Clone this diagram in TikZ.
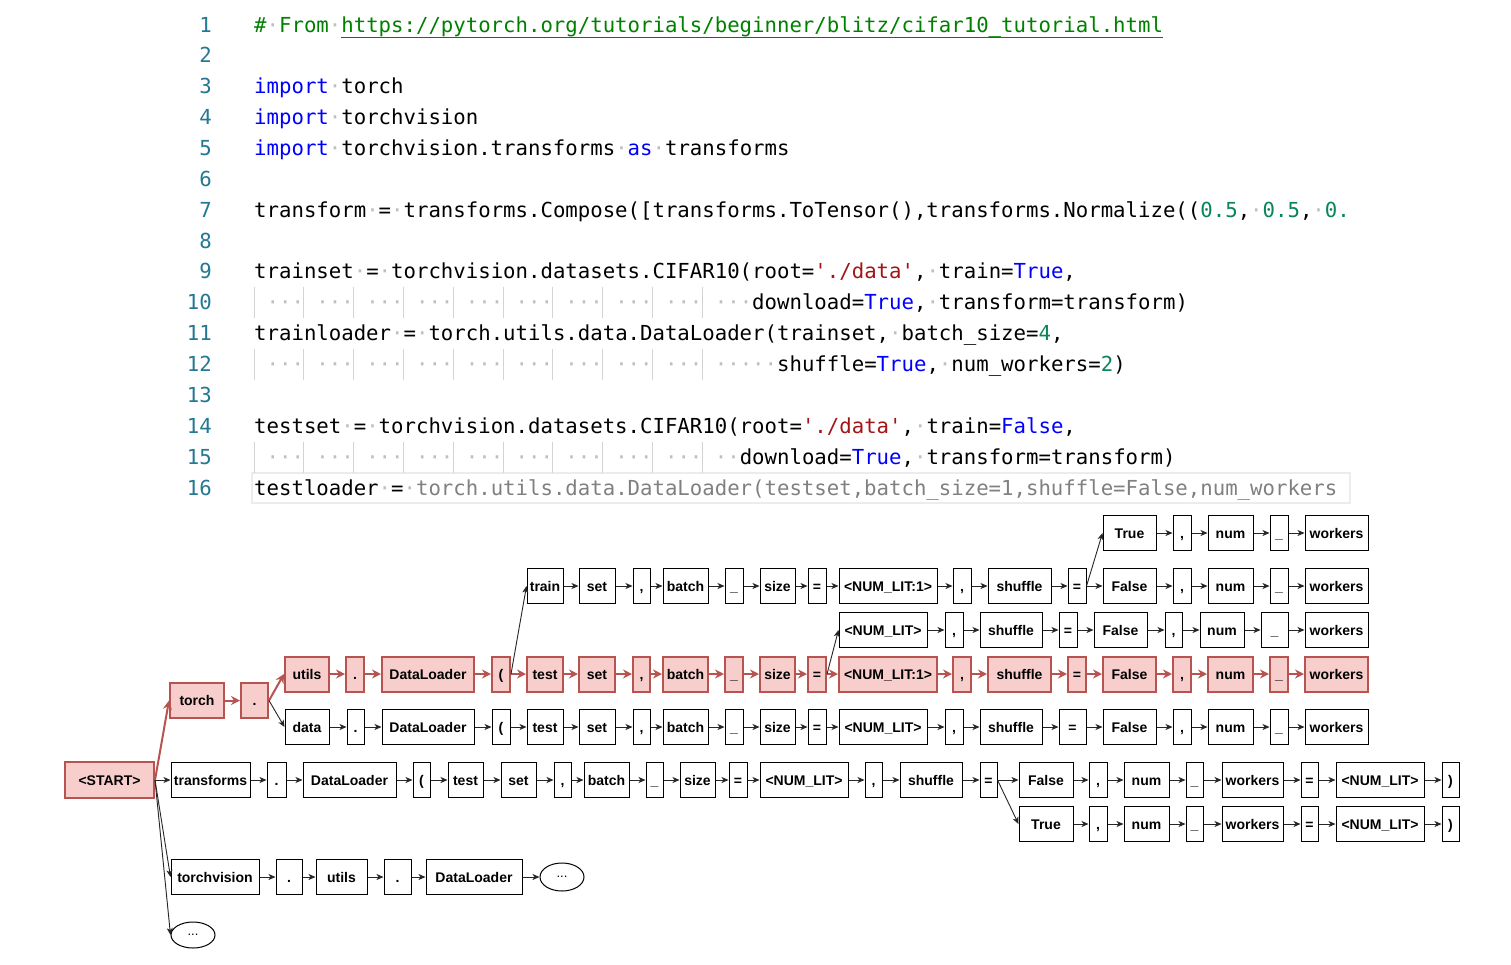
\documentclass[tikz,border=0pt]{standalone}
\usepackage{fontspec}
\setsansfont{Liberation Sans}
\setmonofont{DejaVu Sans Mono}
\usetikzlibrary{arrows.meta,shapes.geometric}
\definecolor{kw}{HTML}{0000FF}
\definecolor{numc}{HTML}{098658}
\definecolor{strc}{HTML}{A31515}
\definecolor{cmt}{HTML}{008000}
\definecolor{lnum}{HTML}{237893}
\definecolor{wsc}{HTML}{BFBFBF}
\definecolor{guide}{HTML}{D3D3D3}
\definecolor{ghost}{HTML}{808080}
\definecolor{rfill}{HTML}{F8CECC}
\definecolor{rline}{HTML}{B85450}
\newcommand\ws{{\color{wsc}·}}
\newcommand\grp{\hphantom{0}\ws\ws\ws}
\newcommand\bx[6][]{\node[box,#1,minimum width={(#4-#3)*1pt}] (#2) at ({(#3+#4)/2},#5) {#6};}
\begin{document}
\begin{tikzpicture}[x=1pt,y=-1pt,
  box/.style={draw=black,line width=1pt,fill=white,minimum height=35pt,inner sep=1pt,
    text height=12pt,text depth=2pt,
    font=\sffamily\bfseries\fontsize{14}{16}\selectfont},
  rbox/.style={fill=rfill,draw=rline,line width=2pt},
  ell/.style={draw=black,line width=1pt,ellipse,inner sep=0pt,font=\sffamily\fontsize{13}{15}\selectfont},
  arr/.style={draw=black!85,line width=0.9pt,-{Stealth[length=7pt,width=6pt,inset=2pt]}},
  rarr/.style={draw=rline,line width=2pt,-{Stealth[length=9pt,width=9pt,inset=3pt]}},
  code/.style={anchor=base west,inner sep=0pt,font=\ttfamily\fontsize{20.68}{24}\selectfont},
  lno/.style={anchor=base east,inner sep=0pt,text=lnum,font=\ttfamily\fontsize{20.68}{24}\selectfont}]
\useasboundingbox (0,0) rectangle (1511,964);
\fill[white] (0,0) rectangle (1511,964);

% ---------- code ----------
\draw[gray!15,line width=1.5pt] (252,473) rectangle (1350,503);
\foreach \n in {1,...,16}{
  \node[lno] (ln\n) at (212,{25+(\n-1)*30.87+7}) {\n};
}
\foreach \n in {10,12,15}{
  \foreach \k in {0,...,9}{
    \draw[guide,line width=0.8pt] ({254+\k*49.8},{25+(\n-1)*30.87-15.4}) -- ({254+\k*49.8},{25+(\n-1)*30.87+15.4});
  }
}
\node[code] (c1) at (254,{25+0*30.87+7}) {{\color{cmt}\#}\ws{\color{cmt}From}\ws{\color{cmt}https://pytorch.org/tutorials/beginner/blitz/cifar10\_tutorial.html}};
\draw[cmt,line width=1pt] (341,37) -- (1163,37);
\node[code] (c3) at (254,{25+2*30.87+7}) {{\color{kw}import}\ws torch};
\node[code] (c4) at (254,{25+3*30.87+7}) {{\color{kw}import}\ws torchvision};
\node[code] (c5) at (254,{25+4*30.87+7}) {{\color{kw}import}\ws torchvision.transforms\ws{\color{kw}as}\ws transforms};
\node[code] (c7) at (254,{25+6*30.87+7}) {transform\ws=\ws transforms.Compose([transforms.ToTensor(),transforms.Normalize(({\color{numc}0.5},\ws{\color{numc}0.5},\ws{\color{numc}0.}};
\node[code] (c9) at (254,{25+8*30.87+7}) {trainset\ws=\ws torchvision.datasets.CIFAR10(root={\color{strc}'./data'},\ws train={\color{kw}True},};
\node[code] (c10) at (254,{25+9*30.87+7}) {\grp\grp\grp\grp\grp\grp\grp\grp\grp\grp download={\color{kw}True},\ws transform=transform)};
\node[code] (c11) at (254,{25+10*30.87+7}) {trainloader\ws=\ws torch.utils.data.DataLoader(trainset,\ws batch\_size={\color{numc}4},};
\node[code] (c12) at (254,{25+11*30.87+7}) {\grp\grp\grp\grp\grp\grp\grp\grp\grp\grp\ws\ws shuffle={\color{kw}True},\ws num\_workers={\color{numc}2})};
\node[code] (c14) at (254,{25+13*30.87+7}) {testset\ws=\ws torchvision.datasets.CIFAR10(root={\color{strc}'./data'},\ws train={\color{kw}False},};
\node[code] (c15) at (254,{25+14*30.87+7}) {\grp\grp\grp\grp\grp\grp\grp\grp\grp\hphantom{0}\ws\ws download={\color{kw}True},\ws transform=transform)};
\node[code] (c16) at (254,{25+15*30.87+7}) {testloader\ws=\ws{\color{ghost}torch.utils.data.DataLoader(testset,batch\_size=1,shuffle=False,num\_workers}};

% ---------- diagram ----------
\node[box,rbox,minimum width=89pt,minimum height=36pt] (S) at (109.5,780) {<START>};
\bx[rbox]{T1}{170}{224}{700.5}{torch}
\bx[rbox]{T2}{241}{268}{700.5}{.}

% row A
\bx{A16}{1103}{1156}{533}{True}
\bx{A17}{1173}{1191}{533}{,}
\bx{A18}{1208}{1253}{533}{num}
\bx{A19}{1270}{1288}{533}{\_}
\bx{A20}{1305}{1368}{533}{workers}
% row B
\bx{B5}{527}{563}{586}{train}
\bx{B6}{579}{615}{586}{set}
\bx{B7}{633}{650}{586}{,}
\bx{B8}{663}{708}{586}{batch}
\bx{B9}{725}{743}{586}{\_}
\bx{B10}{760}{795}{586}{size}
\bx{B11}{808}{826}{586}{=}
\bx{B12}{839}{937}{586}{<NUM\_LIT:1>}
\bx{B13}{953}{971}{586}{,}
\bx{B14}{988}{1051}{586}{shuffle}
\bx{B15}{1068}{1086}{586}{=}
\bx{B16}{1103}{1156}{586}{False}
\bx{B17}{1173}{1191}{586}{,}
\bx{B18}{1208}{1253}{586}{num}
\bx{B19}{1270}{1288}{586}{\_}
\bx{B20}{1305}{1368}{586}{workers}
% row C
\bx{C12}{839}{927}{630}{<NUM\_LIT>}
\bx{C13}{945}{963}{630}{,}
\bx{C14}{980}{1042}{630}{shuffle}
\bx{C15}{1059}{1077}{630}{=}
\bx{C16}{1094}{1147}{630}{False}
\bx{C17}{1165}{1182}{630}{,}
\bx{C18}{1200}{1244}{630}{num}
\bx{C19}{1261}{1288}{630}{\_}
\bx{C20}{1305}{1368}{630}{workers}
% row D (highlighted)
\bx[rbox]{D1}{285}{329}{674}{utils}
\bx[rbox]{D2}{346}{364}{674}{.}
\bx[rbox]{D3}{382}{474}{674}{DataLoader}
\bx[rbox]{D4}{492}{510}{674}{(}
\bx[rbox]{D5}{527}{563}{674}{test}
\bx[rbox]{D6}{579}{615}{674}{set}
\bx[rbox]{D7}{633}{650}{674}{,}
\bx[rbox]{D8}{663}{708}{674}{batch}
\bx[rbox]{D9}{725}{743}{674}{\_}
\bx[rbox]{D10}{760}{795}{674}{size}
\bx[rbox]{D11}{808}{826}{674}{=}
\bx[rbox]{D12}{839}{937}{674}{<NUM\_LIT:1>}
\bx[rbox]{D13}{953}{971}{674}{,}
\bx[rbox]{D14}{988}{1051}{674}{shuffle}
\bx[rbox]{D15}{1068}{1086}{674}{=}
\bx[rbox]{D16}{1103}{1156}{674}{False}
\bx[rbox]{D17}{1173}{1191}{674}{,}
\bx[rbox]{D18}{1208}{1253}{674}{num}
\bx[rbox]{D19}{1270}{1288}{674}{\_}
\bx[rbox]{D20}{1305}{1368}{674}{workers}
% row E
\bx{E1}{285}{329}{727}{data}
\bx{E2}{347}{364}{727}{.}
\bx{E3}{382}{474}{727}{DataLoader}
\bx{E4}{492}{510}{727}{(}
\bx{E5}{527}{563}{727}{test}
\bx{E6}{579}{615}{727}{set}
\bx{E7}{633}{650}{727}{,}
\bx{E8}{663}{708}{727}{batch}
\bx{E9}{725}{743}{727}{\_}
\bx{E10}{760}{795}{727}{size}
\bx{E11}{808}{826}{727}{=}
\bx{E12}{839}{927}{727}{<NUM\_LIT>}
\bx{E13}{945}{963}{727}{,}
\bx{E14}{980}{1042}{727}{shuffle}
\bx{E15}{1059}{1086}{727}{=}
\bx{E16}{1103}{1156}{727}{False}
\bx{E17}{1173}{1191}{727}{,}
\bx{E18}{1208}{1253}{727}{num}
\bx{E19}{1270}{1288}{727}{\_}
\bx{E20}{1305}{1368}{727}{workers}
% row F
\bx{F1}{171}{250}{780}{transforms}
\bx{F2}{267}{286}{780}{.}
\bx{F3}{303}{396}{780}{DataLoader}
\bx{F4}{413}{430}{780}{(}
\bx{F5}{448}{483}{780}{test}
\bx{F6}{501}{536}{780}{set}
\bx{F7}{554}{571}{780}{,}
\bx{F8}{584}{629}{780}{batch}
\bx{F9}{646}{663}{780}{\_}
\bx{F10}{680}{715}{780}{size}
\bx{F11}{729}{747}{780}{=}
\bx{F12}{760}{848}{780}{<NUM\_LIT>}
\bx{F13}{865}{882}{780}{,}
\bx{F14}{900}{962}{780}{shuffle}
\bx{F15}{980}{997}{780}{=}
\bx{F16}{1019}{1073}{780}{False}
\bx{F17}{1089}{1107}{780}{,}
\bx{F18}{1124}{1169}{780}{num}
\bx{F19}{1186}{1203}{780}{\_}
\bx{F20}{1222}{1283}{780}{workers}
\bx{F21}{1301}{1318}{780}{=}
\bx{F22}{1336}{1424}{780}{<NUM\_LIT>}
\bx{F23}{1442}{1459}{780}{)}
% row G
\bx{G16}{1019}{1073}{824}{True}
\bx{G17}{1089}{1107}{824}{,}
\bx{G18}{1124}{1169}{824}{num}
\bx{G19}{1186}{1203}{824}{\_}
\bx{G20}{1222}{1283}{824}{workers}
\bx{G21}{1301}{1318}{824}{=}
\bx{G22}{1336}{1424}{824}{<NUM\_LIT>}
\bx{G23}{1442}{1459}{824}{)}
% row H
\bx{H1}{171}{259}{877}{torchvision}
\bx{H2}{276}{302}{877}{.}
\bx{H3}{316}{367}{877}{utils}
\bx{H4}{384}{411}{877}{.}
\bx{H5}{426}{522}{877}{DataLoader}
\node[ell,minimum width=44pt,minimum height=28pt] (H6) at (562,877) {...};
\node[ell,minimum width=44pt,minimum height=26pt] (X) at (193,935) {...};

% ---------- connectors ----------
\foreach \r/\s/\e in {E/1/20,B/5/20,C/12/20,A/16/20,F/1/23,G/16/23,H/1/6}{
  \pgfmathtruncatemacro\last{\e-1}
  \foreach \i in {\s,...,\last}{
    \pgfmathtruncatemacro\nx{\i+1}
    \draw[arr] (\r\i.east) -- (\r\nx.west);
  }
}
\foreach \i in {1,...,19}{
  \pgfmathtruncatemacro\nx{\i+1}
  \draw[rarr] (D\i.east) -- (D\nx.west);
}
\draw[rarr] (S.east) -- (T1.west);
\draw[rarr] (T1.east) -- (T2.west);
\draw[rarr] (T2.east) -- (D1.west);
\draw[arr] (T2.east) -- (E1.west);
\draw[arr] (D4.east) -- (B5.west);
\draw[arr] (D11.east) -- (C12.west);
\draw[arr] (B15.east) -- (A16.west);
\draw[arr] (F15.east) -- (G16.west);
\draw[arr] (S.east) -- (F1.west);
\draw[arr] (S.east) -- (H1.west);
\draw[arr] (S.east) -- (X.west);
\end{tikzpicture}
\end{document}
